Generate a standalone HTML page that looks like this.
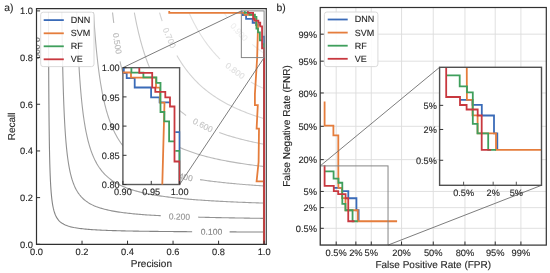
<!DOCTYPE html><html><head><meta charset="utf-8"><style>html,body{margin:0;padding:0;background:#fff;}svg{display:block;text-rendering:geometricPrecision;filter:blur(0.3px);}</style></head><body>
<svg width="550" height="273" viewBox="0 0 550 273" font-family="'Liberation Sans', Arial, sans-serif">
<defs>
<clipPath id="ca"><rect x="36.5" y="8.6" width="229.8" height="235.70000000000002"/></clipPath>
<clipPath id="ci"><rect x="122.9" y="67.7" width="56.69999999999999" height="116.8"/></clipPath>
<clipPath id="ci2"><rect x="122.9" y="67.7" width="57.499999999999986" height="116.8"/></clipPath>
<clipPath id="cb"><rect x="320.2" y="7.5" width="226.09999999999997" height="237.6"/></clipPath>
<clipPath id="cj"><rect x="439.6" y="67.3" width="101.89999999999998" height="118.00000000000001"/></clipPath>
</defs>
<rect width="550" height="273" fill="#fff"/>
<g clip-path="url(#ca)">
<polyline points="48.48,12.53 48.49,14.03 48.49,15.53 48.50,17.03 48.50,18.53 48.51,20.03 48.51,21.53 48.51,23.03 48.52,24.53 48.52,26.03 48.53,27.53 48.53,29.03 48.54,30.52 48.54,32.02 48.55,33.52 48.55,35.02 48.56,36.52 48.56,38.02 48.57,39.52 48.57,41.02 48.58,42.52 48.58,44.02 48.59,45.52 48.60,47.02 48.60,48.52 48.61,50.01 48.61,51.51 48.62,53.01 48.63,54.51 48.63,56.01 48.64,57.51 48.65,59.01 48.65,60.51 48.66,62.01 48.67,63.51 48.67,65.01 48.68,66.51 48.69,68.01 48.69,69.50 48.70,71.00 48.71,72.50 48.72,74.00 48.73,75.50 48.73,77.00 48.74,78.50 48.75,80.00 48.76,81.50 48.77,83.00 48.78,84.50 48.79,86.00 48.80,87.50 48.81,88.99 48.81,90.49 48.82,91.99 48.83,93.49 48.85,94.99 48.86,96.49 48.87,97.99 48.88,99.49 48.89,100.99 48.90,102.49 48.91,103.99 48.93,105.49 48.94,106.98 48.95,108.48 48.96,109.98 48.98,111.48 48.99,112.98 49.00,114.48 49.02,115.98 49.03,117.48 49.05,118.98 49.06,120.48 49.08,121.98 49.10,123.48 49.11,124.97 49.13,126.47 49.15,127.97 49.17,129.47 49.19,130.97 49.21,132.47 49.23,133.97 49.25,135.47 49.27,136.97 49.29,138.47 49.31,139.97 49.34,141.46 49.36,142.96 49.39,144.46 49.41,145.96 49.44,147.46 49.47,148.96 49.50,150.46 49.53,151.96 49.56,153.46 49.59,154.96 49.62,156.45 49.66,157.95 49.70,159.45 49.73,160.95 49.77,162.45 49.81,163.95 49.86,165.45 49.90,166.95 49.95,168.44 50.00,169.94 50.05,171.44 50.11,172.94 50.16,174.44 50.22,175.94 50.29,177.43 50.35,178.93 50.42,180.43 50.50,181.93 50.58,183.42 50.66,184.92 50.75,186.42 50.85,187.91 50.95,189.41 51.06,190.90 51.18,192.40 51.31,193.89 51.45,195.38 51.59,196.88 51.76,198.37 51.93,199.86 52.12,201.34 52.34,202.83 52.57,204.31 52.83,205.78 53.11,207.26 53.43,208.72 53.79,210.18 54.20,211.62 54.66,213.05 55.19,214.45 55.78,215.83 56.46,217.16 57.24,218.44 58.12,219.66 59.10,220.79 60.18,221.83 61.35,222.77 62.59,223.60 63.90,224.34 65.25,224.98 66.64,225.55 68.05,226.05 69.49,226.48 70.94,226.87 72.40,227.21 73.86,227.52 75.34,227.79 76.82,228.04 78.30,228.26 79.78,228.47 81.27,228.65 82.76,228.82 84.25,228.98 85.74,229.12 87.24,229.26 88.73,229.38 90.23,229.49 91.72,229.60 93.22,229.70 94.71,229.79 96.21,229.88 97.71,229.96 99.21,230.04 100.70,230.12 102.20,230.19 103.70,230.25 105.20,230.31 106.69,230.37 108.19,230.43 109.69,230.48 111.19,230.53 112.69,230.58 114.19,230.63 115.68,230.67 117.18,230.71 118.68,230.75 120.18,230.79 121.68,230.83 123.18,230.87 124.68,230.90 126.18,230.93 127.67,230.97 129.17,231.00 130.67,231.03 132.17,231.05 133.67,231.08 135.17,231.11 136.67,231.13 138.17,231.16 139.67,231.18 141.17,231.21 142.66,231.23 144.16,231.25 145.66,231.27 147.16,231.29 148.66,231.31 150.16,231.33 151.66,231.35 153.16,231.37 154.66,231.39 156.16,231.40 157.66,231.42 159.16,231.44 160.65,231.45 162.15,231.47 163.65,231.48 165.15,231.50 166.65,231.51 168.15,231.53 169.65,231.54 171.15,231.55 172.65,231.57 174.15,231.58 175.65,231.59 177.15,231.60 178.64,231.61 180.14,231.63 181.64,231.64 183.14,231.65 184.64,231.66 186.14,231.67 187.64,231.68 189.14,231.69 190.64,231.70 192.14,231.71" fill="none" stroke="rgb(133,133,133)" stroke-width="1.1"/>
<polyline points="229.62,231.90 231.12,231.91 232.62,231.91 234.12,231.92 235.61,231.92 237.11,231.93 238.61,231.93 240.11,231.94 241.61,231.94 243.11,231.95 244.61,231.95 246.11,231.96 247.61,231.97 249.11,231.97 250.61,231.97 252.11,231.98 253.61,231.98 255.10,231.99 256.60,231.99 258.10,232.00 259.60,232.00 261.10,232.01 262.60,232.01 264.10,232.02" fill="none" stroke="rgb(133,133,133)" stroke-width="1.1"/>
<polyline points="61.81,12.53 61.83,14.03 61.85,15.53 61.86,17.02 61.88,18.52 61.90,20.02 61.92,21.51 61.94,23.01 61.96,24.51 61.98,26.00 62.01,27.50 62.03,29.00 62.05,30.49 62.07,31.99 62.09,33.49 62.12,34.98 62.14,36.48 62.16,37.98 62.19,39.47 62.21,40.97 62.24,42.47 62.26,43.96 62.29,45.46 62.31,46.96 62.34,48.45 62.37,49.95 62.39,51.45 62.42,52.94 62.45,54.44 62.48,55.94 62.51,57.43 62.54,58.93 62.57,60.43 62.60,61.92 62.63,63.42 62.66,64.91 62.70,66.41 62.73,67.91 62.77,69.40 62.80,70.90 62.84,72.40 62.87,73.89 62.91,75.39 62.95,76.89 62.99,78.38 63.03,79.88 63.07,81.37 63.11,82.87 63.15,84.37 63.19,85.86 63.24,87.36 63.28,88.86 63.33,90.35 63.37,91.85 63.42,93.34 63.47,94.84 63.52,96.34 63.57,97.83 63.63,99.33 63.68,100.82 63.74,102.32 63.79,103.81 63.85,105.31 63.91,106.81 63.98,108.30 64.04,109.80 64.10,111.29 64.17,112.79 64.24,114.28 64.31,115.78 64.38,117.27 64.46,118.77 64.54,120.26 64.61,121.76 64.70,123.25 64.78,124.75 64.87,126.24 64.96,127.74 65.05,129.23 65.15,130.72 65.25,132.22 65.35,133.71 65.45,135.20 65.56,136.70 65.68,138.19 65.80,139.68 65.92,141.17 66.04,142.66 66.18,144.15 66.31,145.64 66.46,147.13 66.60,148.62 66.76,150.11 66.92,151.60 67.09,153.09 67.26,154.58 67.45,156.06 67.64,157.55 67.84,159.03 68.05,160.51 68.27,161.99 68.50,163.47 68.74,164.95 69.00,166.42 69.27,167.89 69.56,169.36 69.86,170.83 70.18,172.29 70.51,173.75 70.87,175.20 71.25,176.65 71.65,178.09 72.08,179.53 72.54,180.95 73.02,182.37 73.55,183.77 74.10,185.16 74.69,186.54 75.33,187.89 76.00,189.23 76.72,190.54 77.49,191.82 78.31,193.08 79.18,194.29 80.10,195.47 81.08,196.61 82.10,197.70 83.17,198.74 84.29,199.74 85.46,200.68 86.66,201.57 87.90,202.41 89.17,203.20 90.47,203.94 91.80,204.63 93.14,205.28 94.51,205.89 95.90,206.46 97.30,206.99 98.71,207.49 100.13,207.96 101.56,208.40 103.00,208.81 104.44,209.20 105.89,209.57 107.35,209.91 108.81,210.24 110.28,210.55 111.74,210.84 113.22,211.11 114.69,211.38 116.17,211.62 117.64,211.86 119.12,212.09 120.60,212.30 122.09,212.50 123.57,212.70 125.06,212.89 126.54,213.06 128.03,213.24 129.52,213.40 131.01,213.56 132.50,213.71 133.98,213.85 135.48,213.99 136.97,214.12 138.46,214.25 139.95,214.38 141.44,214.50 142.93,214.61 144.43,214.72 145.92,214.83 147.41,214.93 148.91,215.03 150.40,215.13 151.89,215.23 153.39,215.32 154.88,215.40 156.38,215.49 157.87,215.57 159.36,215.65 160.86,215.73" fill="none" stroke="rgb(146,146,146)" stroke-width="1.1"/>
<polyline points="198.25,217.14 199.75,217.18 201.25,217.22 202.74,217.26 204.24,217.30 205.73,217.33 207.23,217.37 208.73,217.41 210.22,217.44 211.72,217.48 213.22,217.51 214.71,217.54 216.21,217.58 217.71,217.61 219.20,217.64 220.70,217.67 222.19,217.70 223.69,217.73 225.19,217.76 226.68,217.79 228.18,217.82 229.68,217.84 231.17,217.87 232.67,217.90 234.17,217.92 235.66,217.95 237.16,217.97 238.66,218.00 240.15,218.02 241.65,218.05 243.15,218.07 244.64,218.09 246.14,218.12 247.64,218.14 249.13,218.16 250.63,218.18 252.13,218.21 253.62,218.23 255.12,218.25 256.62,218.27 258.11,218.29 259.61,218.31 261.11,218.33 262.60,218.35 264.10,218.37" fill="none" stroke="rgb(146,146,146)" stroke-width="1.1"/>
<polyline points="76.71,12.53 76.76,14.03 76.81,15.52 76.86,17.01 76.90,18.51 76.95,20.00 77.00,21.49 77.06,22.98 77.11,24.48 77.16,25.97 77.21,27.46 77.27,28.95 77.32,30.45 77.38,31.94 77.44,33.43 77.49,34.92 77.55,36.42 77.61,37.91 77.68,39.40 77.74,40.89 77.80,42.39 77.87,43.88 77.93,45.37 78.00,46.86 78.07,48.35 78.14,49.85 78.21,51.34 78.28,52.83 78.35,54.32 78.43,55.81 78.50,57.30 78.58,58.80 78.66,60.29 78.74,61.78 78.83,63.27 78.91,64.76 79.00,66.25 79.08,67.74 79.17,69.23 79.27,70.72 79.36,72.22 79.46,73.71 79.55,75.20 79.65,76.69 79.76,78.18 79.86,79.67 79.97,81.16 80.08,82.65 80.19,84.13 80.31,85.62 80.42,87.11 80.54,88.60 80.67,90.09 80.79,91.58 80.92,93.07 81.06,94.55 81.19,96.04 81.33,97.53 81.48,99.01 81.63,100.50 81.78,101.99 81.94,103.47 82.10,104.96 82.26,106.44 82.43,107.93 82.61,109.41 82.79,110.89 82.97,112.37 83.16,113.85 83.36,115.33 83.56,116.81 83.78,118.29 83.99,119.77 84.22,121.25 84.45,122.72 84.69,124.20 84.93,125.67 85.19,127.14 85.45,128.61 85.73,130.08 86.01,131.55 86.31,133.01 86.62,134.47 86.93,135.93 87.26,137.39 87.61,138.84 87.96,140.29 88.33,141.74 88.72,143.18 89.12,144.62 89.54,146.05 89.98,147.48 90.43,148.90 90.91,150.32 91.41,151.73 91.92,153.13 92.46,154.52 93.03,155.90 93.62,157.28 94.24,158.64 94.88,159.98 95.56,161.32 96.26,162.63 96.99,163.93 97.76,165.22 98.56,166.48 99.39,167.72 100.26,168.93 101.16,170.13 102.09,171.29 103.06,172.43 104.07,173.53 105.10,174.61 106.17,175.65 107.27,176.66 108.40,177.64 109.56,178.58 110.75,179.49 111.96,180.36 113.19,181.20 114.45,182.01 115.73,182.78 117.02,183.52 118.34,184.23 119.67,184.91 121.01,185.56 122.37,186.18 123.74,186.78 125.12,187.35 126.51,187.90 127.91,188.42 129.32,188.92 130.73,189.40 132.15,189.86 133.58,190.30 135.01,190.72 136.45,191.13 137.89,191.52 139.34,191.89 140.79,192.25 142.24,192.60 143.70,192.93 145.15,193.25 146.62,193.56 148.08,193.86 149.55,194.14 151.01,194.42 152.48,194.69 153.95,194.94 155.43,195.19 156.90,195.43 158.38,195.67 159.85,195.89 161.33,196.11 162.81,196.32 164.29,196.53 165.77,196.73 167.25,196.92 168.73,197.10 170.21,197.29 171.70,197.46 173.18,197.63 174.66,197.80 176.15,197.96 177.63,198.12 179.12,198.27 180.61,198.42 182.09,198.57 183.58,198.71 185.07,198.84 186.55,198.98 188.04,199.11 189.53,199.24 191.02,199.36 192.51,199.48 194.00,199.60 195.49,199.72 196.97,199.83 198.46,199.94 199.95,200.05 201.44,200.15 202.93,200.26 204.42,200.36 205.91,200.45 207.40,200.55 208.90,200.64 210.39,200.74 211.88,200.83 213.37,200.92 214.86,201.00 216.35,201.09 217.84,201.17 219.33,201.25 220.82,201.33 222.32,201.41 223.81,201.49 225.30,201.56 226.79,201.64 228.28,201.71 229.77,201.78 231.27,201.85 232.76,201.92 234.25,201.98 235.74,202.05 237.23,202.12 238.73,202.18 240.22,202.24 241.71,202.30 243.20,202.36 244.70,202.42 246.19,202.48 247.68,202.54 249.17,202.60 250.67,202.65 252.16,202.71 253.65,202.76 255.14,202.81 256.64,202.86 258.13,202.92 259.62,202.97 261.11,203.01 262.61,203.06 264.10,203.11" fill="none" stroke="rgb(159,159,159)" stroke-width="1.1"/>
<polyline points="93.50,12.53 93.59,14.03 93.69,15.52 93.79,17.01 93.88,18.51 93.98,20.00 94.08,21.49 94.19,22.99 94.29,24.48 94.40,25.97 94.51,27.46 94.62,28.96 94.73,30.45 94.85,31.94 94.96,33.43 95.08,34.92 95.20,36.42 95.32,37.91 95.45,39.40 95.58,40.89 95.71,42.38 95.84,43.87 95.98,45.36 96.11,46.85 96.25,48.34 96.40,49.83 96.54,51.32 96.69,52.81 96.85,54.30 97.00,55.79 97.16,57.27 97.32,58.76 97.49,60.25 97.66,61.74 97.83,63.22 98.01,64.71 98.19,66.19 98.37,67.68 98.56,69.16 98.75,70.65 98.95,72.13 99.16,73.61 99.36,75.10 99.57,76.58 99.79,78.06 100.01,79.54 100.24,81.02 100.48,82.49 100.72,83.97 100.96,85.45 101.22,86.92 101.47,88.40 101.74,89.87 102.01,91.34 102.29,92.81 102.58,94.28 102.88,95.75 103.18,97.21 103.50,98.67 103.82,100.14 104.15,101.59 104.49,103.05 104.84,104.51 105.20,105.96 105.57,107.41 105.96,108.85 106.35,110.30 106.76,111.74 107.18,113.17 107.62,114.61 108.06,116.03 108.53,117.46 109.00,118.87 109.50,120.29 110.01,121.69 110.53,123.10 111.08,124.49 111.64,125.88 112.22,127.26 112.82,128.63 113.44,129.99 114.08,131.34 114.74,132.68 115.43,134.01 116.13,135.33 116.86,136.64 117.62,137.93 118.40,139.21 119.20,140.47 120.03,141.72 120.88,142.95 121.76,144.16 122.67,145.35 123.60,146.52 124.56,147.67 125.54,148.80 126.55,149.90 127.58,150.98 128.64,152.04 129.72,153.08 130.83,154.09 131.96,155.07 133.11,156.03 134.28,156.96 135.47,157.86 136.68,158.74 137.91,159.60 139.15,160.43 140.42,161.23 141.69,162.01 142.98,162.77 144.29,163.50 145.61,164.20 146.94,164.89 148.28,165.55 149.63,166.19 151.00,166.81 152.37,167.41 153.75,167.99 155.13,168.56 156.53,169.10 157.93,169.63 159.33,170.14 160.75,170.63 162.17,171.11 163.59,171.57" fill="none" stroke="rgb(172,172,172)" stroke-width="1.1"/>
<polyline points="200.08,179.62 201.56,179.85 203.04,180.06 204.53,180.27 206.01,180.48 207.49,180.68 208.97,180.88 210.46,181.08 211.94,181.26 213.43,181.45 214.91,181.63 216.40,181.81 217.88,181.98 219.37,182.15 220.86,182.32 222.35,182.48 223.83,182.64 225.32,182.79 226.81,182.94 228.30,183.09 229.79,183.24 231.28,183.38 232.77,183.52 234.26,183.66 235.75,183.80 237.24,183.93 238.73,184.06 240.22,184.19 241.71,184.31 243.20,184.44 244.70,184.56 246.19,184.68 247.68,184.79 249.17,184.91 250.66,185.02 252.16,185.13 253.65,185.24 255.14,185.35 256.63,185.45 258.13,185.55 259.62,185.66 261.11,185.76 262.61,185.85 264.10,185.95" fill="none" stroke="rgb(172,172,172)" stroke-width="1.1"/>
<polyline points="112.55,12.53 112.71,14.02 112.88,15.51 113.05,17.00 113.23,18.49 113.40,19.98 113.58,21.46 113.77,22.95" fill="none" stroke="rgb(185,185,185)" stroke-width="1.1"/>
<polyline points="120.06,61.39 120.37,62.86 120.70,64.32 121.03,65.78 121.37,67.24 121.72,68.70 122.07,70.15 122.44,71.61 122.81,73.06 123.19,74.51 123.58,75.95 123.99,77.40 124.40,78.84 124.82,80.28 125.25,81.71 125.69,83.14 126.15,84.57 126.62,85.99 127.09,87.41 127.59,88.83 128.09,90.24 128.61,91.65 129.14,93.05 129.68,94.44 130.24,95.84 130.82,97.22 131.41,98.60 132.01,99.97 132.64,101.33 133.27,102.69 133.93,104.03 134.60,105.37 135.30,106.70 136.00,108.02 136.73,109.33 137.48,110.63 138.25,111.92 139.03,113.19 139.84,114.46 140.67,115.71 141.51,116.94 142.38,118.16 143.27,119.37 144.18,120.56 145.11,121.74 146.06,122.90 147.03,124.04 148.02,125.16 149.03,126.27 150.06,127.36 151.11,128.42 152.18,129.47 153.28,130.50 154.38,131.51 155.51,132.50 156.66,133.46 157.82,134.41 159.00,135.33 160.19,136.24 161.40,137.12 162.62,137.99 163.86,138.83 165.11,139.65 166.38,140.46 167.66,141.24 168.95,142.00 170.25,142.75 171.56,143.47 172.88,144.18 174.21,144.87 175.55,145.54 176.90,146.19 178.26,146.82 179.62,147.44 181.00,148.05 182.37,148.63 183.76,149.21 185.15,149.76 186.55,150.31 187.95,150.83 189.36,151.35 190.77,151.85 192.19,152.34 193.61,152.82 195.03,153.28 196.46,153.73 197.89,154.18 199.33,154.61 200.77,155.03 202.21,155.44 203.65,155.84 205.10,156.23 206.55,156.61 208.00,156.98 209.45,157.34 210.91,157.70 212.37,158.04 213.83,158.38 215.29,158.71 216.75,159.03 218.22,159.35 219.68,159.66 221.15,159.96 222.62,160.26 224.09,160.55 225.56,160.83 227.03,161.11 228.51,161.38 229.98,161.64 231.46,161.90 232.94,162.16 234.41,162.41 235.89,162.65 237.37,162.89 238.85,163.12 240.33,163.35 241.81,163.58 243.30,163.80 244.78,164.02 246.26,164.23 247.75,164.44 249.23,164.64 250.72,164.85 252.20,165.04 253.69,165.24 255.17,165.43 256.66,165.61 258.15,165.80 259.63,165.98 261.12,166.15 262.61,166.33 264.10,166.50" fill="none" stroke="rgb(185,185,185)" stroke-width="1.1"/>
<polyline points="134.34,12.53 134.61,14.01 134.89,15.48 135.17,16.95 135.45,18.42 135.75,19.88 136.04,21.35 136.35,22.82 136.65,24.28 136.97,25.75 137.29,27.21 137.61,28.67 137.95,30.13 138.29,31.59 138.63,33.04 138.98,34.50 139.34,35.95 139.71,37.40 140.08,38.85 140.46,40.30 140.85,41.74 141.25,43.19 141.66,44.63 142.07,46.07 142.49,47.50 142.92,48.94 143.36,50.37 143.81,51.79 144.27,53.22 144.74,54.64 145.22,56.06 145.71,57.47 146.21,58.88 146.72,60.29 147.24,61.69 147.78,63.09 148.32,64.48 148.88,65.87 149.45,67.26 150.04,68.64 150.63,70.01 151.24,71.38 151.86,72.74 152.50,74.09 153.15,75.44 153.82,76.78 154.50,78.11 155.19,79.44 155.90,80.76 156.63,82.07 157.37,83.37 158.13,84.66 158.90,85.94 159.69,87.21 160.50,88.47 161.32,89.72 162.16,90.96 163.02,92.19 163.89,93.40 164.78,94.60 165.69,95.79 166.62,96.97 167.56,98.13 168.52,99.28 169.50,100.41 170.50,101.53 171.51,102.63 172.54,103.72 173.58,104.79 174.64,105.85 175.72,106.89 176.81,107.91 177.92,108.91 179.05,109.90 180.18,110.88 181.34,111.83 182.50,112.77 183.68,113.69 184.88,114.59 186.08,115.48" fill="none" stroke="rgb(198,198,198)" stroke-width="1.1"/>
<polyline points="219.26,132.52 220.67,133.03 222.08,133.52 223.50,134.01 224.92,134.48 226.34,134.95 227.77,135.41 229.20,135.85 230.63,136.29 232.06,136.72 233.50,137.14 234.94,137.55 236.38,137.95 237.82,138.34 239.27,138.73 240.72,139.11 242.17,139.48 243.62,139.84 245.07,140.20 246.53,140.55 247.99,140.89 249.44,141.23 250.90,141.56 252.37,141.89 253.83,142.20 255.29,142.52 256.76,142.82 258.22,143.12 259.69,143.42 261.16,143.71 262.63,143.99 264.10,144.27" fill="none" stroke="rgb(198,198,198)" stroke-width="1.1"/>
<polyline points="159.52,12.53 159.94,13.97 160.37,15.40 160.80,16.84 161.24,18.27 161.69,19.69 162.15,21.12" fill="none" stroke="rgb(211,211,211)" stroke-width="1.1"/>
<polyline points="176.88,55.43 177.62,56.73 178.38,58.02 179.15,59.30 179.94,60.57 180.74,61.84 181.55,63.09 182.38,64.34 183.22,65.58 184.08,66.80 184.95,68.02 185.84,69.22 186.74,70.42 187.66,71.60 188.59,72.77 189.54,73.93 190.50,75.07 191.48,76.21 192.47,77.33 193.47,78.44 194.49,79.53 195.52,80.61 196.57,81.68 197.63,82.74 198.71,83.78 199.80,84.80 200.90,85.82 202.01,86.81 203.14,87.80 204.28,88.76 205.44,89.72 206.60,90.66 207.78,91.58 208.96,92.49 210.16,93.39 211.37,94.26 212.60,95.13 213.83,95.98 215.07,96.82 216.32,97.64 217.58,98.45 218.85,99.24 220.12,100.02 221.41,100.78 222.70,101.53 224.01,102.27 225.31,102.99 226.63,103.70 227.96,104.40 229.29,105.09 230.62,105.76 231.97,106.42 233.31,107.06 234.67,107.70 236.03,108.32 237.40,108.93 238.77,109.53 240.14,110.12 241.52,110.70 242.91,111.27 244.29,111.82 245.69,112.37 247.08,112.91 248.49,113.43 249.89,113.95 251.30,114.46 252.71,114.95 254.12,115.44 255.54,115.92 256.96,116.39 258.38,116.85 259.81,117.31 261.24,117.75 262.67,118.19 264.10,118.62" fill="none" stroke="rgb(211,211,211)" stroke-width="1.1"/>
<polyline points="188.95,12.53 189.56,13.89 190.17,15.23 190.80,16.58 191.43,17.92 192.08,19.25 192.74,20.58 193.41,21.90 194.09,23.22 194.78,24.53 195.48,25.83 196.19,27.13 196.92,28.43 197.65,29.71 198.40,30.99 199.16,32.26 199.93,33.53 200.72,34.79 201.51,36.04 202.32,37.28 203.14,38.51 203.97,39.74 204.82,40.96 205.68,42.17 206.55,43.36 207.43,44.55 208.33,45.73 209.24,46.90 210.16,48.07 211.09,49.22 212.04,50.36 213.00,51.49 213.97,52.60 214.96,53.71 215.95,54.81 216.96,55.89 217.99,56.97 219.02,58.03 220.07,59.08" fill="none" stroke="rgb(224,224,224)" stroke-width="1.1"/>
<polyline points="250.87,82.02 252.17,82.74 253.47,83.45 254.78,84.14 256.10,84.83 257.42,85.50 258.74,86.16 260.08,86.81 261.41,87.45 262.75,88.08 264.10,88.70" fill="none" stroke="rgb(224,224,224)" stroke-width="1.1"/>
<polyline points="223.80,12.53 224.63,13.76 225.47,14.98 226.32,16.19 227.18,17.39" fill="none" stroke="rgb(237,237,237)" stroke-width="1.1"/>
<polyline points="252.31,44.40 253.45,45.35 254.60,46.28 255.76,47.20 256.92,48.11 258.10,49.01 259.28,49.90 260.48,50.77 261.68,51.64 262.88,52.49 264.10,53.34" fill="none" stroke="rgb(237,237,237)" stroke-width="1.1"/>
<text x="0" y="0" transform="translate(211.50,231.82) rotate(0.3)" font-size="8.5" fill="rgb(133,133,133)" stroke="rgb(133,133,133)" stroke-width="0.12" text-anchor="middle" dominant-baseline="central">0.100</text>
<text x="0" y="0" transform="translate(179.40,216.54) rotate(2.1)" font-size="8.5" fill="rgb(146,146,146)" stroke="rgb(146,146,146)" stroke-width="0.12" text-anchor="middle" dominant-baseline="central">0.200</text>
<text x="0" y="0" transform="translate(182.30,176.43) rotate(11.9)" font-size="8.5" fill="rgb(172,172,172)" stroke="rgb(172,172,172)" stroke-width="0.12" text-anchor="middle" dominant-baseline="central">0.400</text>
<text x="0" y="0" transform="translate(117.30,43.52) rotate(80.9)" font-size="8.5" fill="rgb(185,185,185)" stroke="rgb(185,185,185)" stroke-width="0.12" text-anchor="middle" dominant-baseline="central">0.500</text>
<text x="0" y="0" transform="translate(202.90,125.20) rotate(26.9)" font-size="8.5" fill="rgb(198,198,198)" stroke="rgb(198,198,198)" stroke-width="0.12" text-anchor="middle" dominant-baseline="central">0.600</text>
<text x="0" y="0" transform="translate(169.50,37.95) rotate(67.0)" font-size="8.5" fill="rgb(211,211,211)" stroke="rgb(211,211,211)" stroke-width="0.12" text-anchor="middle" dominant-baseline="central">0.700</text>
<text x="0" y="0" transform="translate(235.20,70.78) rotate(36.6)" font-size="8.5" fill="rgb(224,224,224)" stroke="rgb(224,224,224)" stroke-width="0.12" text-anchor="middle" dominant-baseline="central">0.800</text>
<text x="0" y="0" transform="translate(239.20,32.00) rotate(46.9)" font-size="8.5" fill="rgb(237,237,237)" stroke="rgb(237,237,237)" stroke-width="0.12" text-anchor="middle" dominant-baseline="central">0.900</text>
<text x="0" y="0" transform="translate(37.2,48.0) rotate(90)" font-size="8.5" fill="rgb(122,122,122)" stroke="rgb(122,122,122)" stroke-width="0.12" text-anchor="middle" dominant-baseline="central">0.000</text>
<polyline points="241.70,10.90 241.70,13.02 242.87,13.02 242.87,15.10 246.08,15.10 246.08,18.81 252.66,18.81 252.66,22.73 256.07,22.73 256.07,24.73 260.25,24.73" fill="none" stroke="#3a6bb8" stroke-width="1.8" stroke-linejoin="miter"/>
<polyline points="262.37,36.64 264.10,36.64 264.10,244.30" fill="none" stroke="#3a6bb8" stroke-width="1.8" stroke-linejoin="miter"/>
<polyline points="169.24,10.90 169.24,12.82 244.59,12.82 244.59,14.86 254.63,14.86 254.63,18.85 256.27,18.85 256.27,24.85 258.04,24.85 257.16,57.58 254.90,94.00 254.90,105.20 257.80,105.20 256.60,128.60 259.00,128.60 258.60,162.00 256.60,181.30 263.85,181.30 263.85,244.30" fill="none" stroke="#e57d3c" stroke-width="1.8" stroke-linejoin="miter"/>
<polyline points="244.75,10.90 244.75,12.90 249.57,12.90 249.57,14.74 254.79,14.74 254.79,16.93 256.43,16.93 256.43,28.60 258.00,28.60 258.00,32.36 259.89,32.36 259.89,40.35 262.05,40.35" fill="none" stroke="#3f9f5c" stroke-width="1.8" stroke-linejoin="miter"/>
<polyline points="262.37,44.11 264.10,44.11 264.10,244.30" fill="none" stroke="#3f9f5c" stroke-width="1.8" stroke-linejoin="miter"/>
<polyline points="247.92,10.90 247.92,12.94 253.10,12.94 253.10,18.85 254.35,18.85 254.35,20.53 258.36,20.53 258.36,22.73 260.25,22.73 260.25,26.41 262.05,26.41 262.05,48.39 264.10,48.39 264.10,244.30" fill="none" stroke="#c8383f" stroke-width="1.8" stroke-linejoin="miter"/>
<rect x="241.34" y="10.90" width="22.76" height="46.68" fill="none" stroke="#858585" stroke-width="1"/>
</g>
<line x1="122.9" y1="67.7" x2="241.34" y2="10.90" stroke="#6e6e6e" stroke-width="0.9"/>
<line x1="179.6" y1="184.5" x2="264.10" y2="57.58" stroke="#6e6e6e" stroke-width="0.9"/>
<path d="M266.30,244.30 V8.60" stroke="#444" stroke-width="1.2" fill="none"/>
<path d="M266.30,8.60 H36.50 V244.30 H266.30" stroke="#303030" stroke-width="1.2" fill="none" stroke-linecap="square"/>
<line x1="36.50" y1="244.3" x2="36.50" y2="240.70000000000002" stroke="#303030" stroke-width="1"/>
<line x1="36.5" y1="244.30" x2="40.1" y2="244.30" stroke="#303030" stroke-width="1"/>
<text x="36.50" y="254.7" font-size="9.3" fill="#262626" stroke="#262626" stroke-width="0.12" text-anchor="middle">0.0</text>
<text x="33.0" y="247.70" font-size="9.3" fill="#262626" stroke="#262626" stroke-width="0.12" text-anchor="end">0.0</text>
<line x1="82.02" y1="244.3" x2="82.02" y2="240.70000000000002" stroke="#303030" stroke-width="1"/>
<line x1="36.5" y1="197.62" x2="40.1" y2="197.62" stroke="#303030" stroke-width="1"/>
<text x="82.02" y="254.7" font-size="9.3" fill="#262626" stroke="#262626" stroke-width="0.12" text-anchor="middle">0.2</text>
<text x="33.0" y="201.02" font-size="9.3" fill="#262626" stroke="#262626" stroke-width="0.12" text-anchor="end">0.2</text>
<line x1="127.54" y1="244.3" x2="127.54" y2="240.70000000000002" stroke="#303030" stroke-width="1"/>
<line x1="36.5" y1="150.94" x2="40.1" y2="150.94" stroke="#303030" stroke-width="1"/>
<text x="127.54" y="254.7" font-size="9.3" fill="#262626" stroke="#262626" stroke-width="0.12" text-anchor="middle">0.4</text>
<text x="33.0" y="154.34" font-size="9.3" fill="#262626" stroke="#262626" stroke-width="0.12" text-anchor="end">0.4</text>
<line x1="173.06" y1="244.3" x2="173.06" y2="240.70000000000002" stroke="#303030" stroke-width="1"/>
<line x1="36.5" y1="104.26" x2="40.1" y2="104.26" stroke="#303030" stroke-width="1"/>
<text x="173.06" y="254.7" font-size="9.3" fill="#262626" stroke="#262626" stroke-width="0.12" text-anchor="middle">0.6</text>
<text x="33.0" y="107.66" font-size="9.3" fill="#262626" stroke="#262626" stroke-width="0.12" text-anchor="end">0.6</text>
<line x1="218.58" y1="244.3" x2="218.58" y2="240.70000000000002" stroke="#303030" stroke-width="1"/>
<line x1="36.5" y1="57.58" x2="40.1" y2="57.58" stroke="#303030" stroke-width="1"/>
<text x="218.58" y="254.7" font-size="9.3" fill="#262626" stroke="#262626" stroke-width="0.12" text-anchor="middle">0.8</text>
<text x="33.0" y="60.98" font-size="9.3" fill="#262626" stroke="#262626" stroke-width="0.12" text-anchor="end">0.8</text>
<line x1="264.10" y1="244.3" x2="264.10" y2="240.70000000000002" stroke="#303030" stroke-width="1"/>
<line x1="36.5" y1="10.90" x2="40.1" y2="10.90" stroke="#303030" stroke-width="1"/>
<text x="264.10" y="254.7" font-size="9.3" fill="#262626" stroke="#262626" stroke-width="0.12" text-anchor="middle">1.0</text>
<text x="33.0" y="14.30" font-size="9.3" fill="#262626" stroke="#262626" stroke-width="0.12" text-anchor="end">1.0</text>
<text x="151.4" y="267.3" font-size="10" fill="#262626" stroke="#262626" stroke-width="0.12" text-anchor="middle">Precision</text>
<text transform="translate(14.6,126.45) rotate(-90)" font-size="10" fill="#262626" stroke="#262626" stroke-width="0.12" text-anchor="middle">Recall</text>
<text x="4.3" y="10.6" font-size="10.3" fill="#262626" stroke="#262626" stroke-width="0.12">a)</text>
<rect x="40.7" y="12.2" width="53.3" height="54.39999999999999" rx="2.5" fill="#fff" fill-opacity="0.88" stroke="#d6d6d6" stroke-width="0.9"/>
<line x1="43.7" y1="20.1" x2="63.8" y2="20.1" stroke="#3a6bb8" stroke-width="1.8"/>
<text x="70.8" y="23.00" font-size="9" fill="#262626" stroke="#262626" stroke-width="0.12">DNN</text>
<line x1="43.7" y1="33.3" x2="63.8" y2="33.3" stroke="#e57d3c" stroke-width="1.8"/>
<text x="70.8" y="36.20" font-size="9" fill="#262626" stroke="#262626" stroke-width="0.12">SVM</text>
<line x1="43.7" y1="46.3" x2="63.8" y2="46.3" stroke="#3f9f5c" stroke-width="1.8"/>
<text x="70.8" y="49.20" font-size="9" fill="#262626" stroke="#262626" stroke-width="0.12">RF</text>
<line x1="43.7" y1="59.3" x2="63.8" y2="59.3" stroke="#c8383f" stroke-width="1.8"/>
<text x="70.8" y="62.20" font-size="9" fill="#262626" stroke="#262626" stroke-width="0.12">VE</text>
<rect x="122.9" y="67.7" width="56.70" height="116.80" fill="#fff"/>
<rect x="122.9" y="67.7" width="56.70" height="116.80" fill="none" stroke="#5a5a5a" stroke-width="1.4"/>
<g clip-path="url(#ci2)">
<polyline points="123.80,67.70 123.80,73.00 126.70,73.00 126.70,78.20 134.70,78.20 134.70,87.50 151.10,87.50 151.10,97.30 159.60,97.30 159.60,102.30 170.00,102.30" fill="none" stroke="#3a6bb8" stroke-width="1.8"/>
<polyline points="175.30,132.10 179.60,132.10 179.60,651.70" fill="none" stroke="#3a6bb8" stroke-width="1.8"/>
<polyline points="-56.73,67.70 -56.73,72.50 131.00,72.50 131.00,77.60 156.00,77.60 156.00,87.60 160.10,87.60 160.10,102.60 164.50,102.60 162.30,184.50 156.68,275.63 156.68,303.65 163.91,303.65 160.92,362.20 166.89,362.20 165.90,445.77 160.92,494.07 178.98,494.07 178.98,651.70" fill="none" stroke="#e57d3c" stroke-width="1.8"/>
<polyline points="131.40,67.70 131.40,72.70 143.40,72.70 143.40,77.30 156.40,77.30 156.40,82.80 160.50,82.80 160.50,112.00 164.40,112.00 164.40,121.40 169.10,121.40 169.10,141.40 174.50,141.40" fill="none" stroke="#3f9f5c" stroke-width="1.8"/>
<polyline points="175.30,150.80 179.60,150.80 179.60,651.70" fill="none" stroke="#3f9f5c" stroke-width="1.8"/>
<polyline points="139.30,67.70 139.30,72.80 152.20,72.80 152.20,87.60 155.30,87.60 155.30,91.80 165.30,91.80 165.30,97.30 170.00,97.30 170.00,106.50 174.50,106.50 174.50,161.50 179.60,161.50 179.60,651.70" fill="none" stroke="#c8383f" stroke-width="1.8"/>
</g>
<line x1="122.90" y1="184.5" x2="122.90" y2="180.9" stroke="#333" stroke-width="1"/>
<text x="122.90" y="194.6" font-size="9.2" fill="#262626" stroke="#262626" stroke-width="0.12" text-anchor="middle">0.90</text>
<line x1="151.25" y1="184.5" x2="151.25" y2="180.9" stroke="#333" stroke-width="1"/>
<text x="151.25" y="194.6" font-size="9.2" fill="#262626" stroke="#262626" stroke-width="0.12" text-anchor="middle">0.95</text>
<line x1="179.60" y1="184.5" x2="179.60" y2="180.9" stroke="#333" stroke-width="1"/>
<text x="179.60" y="194.6" font-size="9.2" fill="#262626" stroke="#262626" stroke-width="0.12" text-anchor="middle">1.00</text>
<line x1="122.9" y1="184.50" x2="126.5" y2="184.50" stroke="#333" stroke-width="1"/>
<text x="119.7" y="188.10" font-size="9.2" fill="#262626" stroke="#262626" stroke-width="0.12" text-anchor="end">0.80</text>
<line x1="122.9" y1="155.30" x2="126.5" y2="155.30" stroke="#333" stroke-width="1"/>
<text x="119.7" y="158.90" font-size="9.2" fill="#262626" stroke="#262626" stroke-width="0.12" text-anchor="end">0.85</text>
<line x1="122.9" y1="126.10" x2="126.5" y2="126.10" stroke="#333" stroke-width="1"/>
<text x="119.7" y="129.70" font-size="9.2" fill="#262626" stroke="#262626" stroke-width="0.12" text-anchor="end">0.90</text>
<line x1="122.9" y1="96.90" x2="126.5" y2="96.90" stroke="#333" stroke-width="1"/>
<text x="119.7" y="100.50" font-size="9.2" fill="#262626" stroke="#262626" stroke-width="0.12" text-anchor="end">0.95</text>
<line x1="122.9" y1="67.70" x2="126.5" y2="67.70" stroke="#333" stroke-width="1"/>
<text x="119.7" y="71.30" font-size="9.2" fill="#262626" stroke="#262626" stroke-width="0.12" text-anchor="end">1.00</text>
<g clip-path="url(#cb)">
<line x1="336.19" y1="7.5" x2="336.19" y2="245.1" stroke="#dcdcdc" stroke-width="0.9"/>
<line x1="320.2" y1="228.30" x2="546.3" y2="228.30" stroke="#dcdcdc" stroke-width="0.9"/>
<line x1="355.86" y1="7.5" x2="355.86" y2="245.1" stroke="#dcdcdc" stroke-width="0.9"/>
<line x1="320.2" y1="207.63" x2="546.3" y2="207.63" stroke="#dcdcdc" stroke-width="0.9"/>
<line x1="371.27" y1="7.5" x2="371.27" y2="245.1" stroke="#dcdcdc" stroke-width="0.9"/>
<line x1="320.2" y1="191.44" x2="546.3" y2="191.44" stroke="#dcdcdc" stroke-width="0.9"/>
<line x1="401.54" y1="7.5" x2="401.54" y2="245.1" stroke="#dcdcdc" stroke-width="0.9"/>
<line x1="320.2" y1="159.63" x2="546.3" y2="159.63" stroke="#dcdcdc" stroke-width="0.9"/>
<line x1="433.25" y1="7.5" x2="433.25" y2="245.1" stroke="#dcdcdc" stroke-width="0.9"/>
<line x1="320.2" y1="126.30" x2="546.3" y2="126.30" stroke="#dcdcdc" stroke-width="0.9"/>
<line x1="464.96" y1="7.5" x2="464.96" y2="245.1" stroke="#dcdcdc" stroke-width="0.9"/>
<line x1="320.2" y1="92.97" x2="546.3" y2="92.97" stroke="#dcdcdc" stroke-width="0.9"/>
<line x1="495.23" y1="7.5" x2="495.23" y2="245.1" stroke="#dcdcdc" stroke-width="0.9"/>
<line x1="320.2" y1="61.16" x2="546.3" y2="61.16" stroke="#dcdcdc" stroke-width="0.9"/>
<line x1="520.91" y1="7.5" x2="520.91" y2="245.1" stroke="#dcdcdc" stroke-width="0.9"/>
<line x1="320.2" y1="34.18" x2="546.3" y2="34.18" stroke="#dcdcdc" stroke-width="0.9"/>
<polyline points="333.79,187.78 342.11,187.78 342.11,191.14 348.30,191.14 348.30,198.25 356.43,198.25 356.43,210.27 358.62,210.27 358.62,221.27" fill="none" stroke="#3a6bb8" stroke-width="1.8"/>
<polyline points="324.60,101.40 324.60,125.70 333.40,125.70 333.40,135.40 338.30,135.40 338.30,165.90 338.38,187.78 342.11,187.78 342.11,198.12 345.51,198.12 345.51,210.27 357.76,210.27 357.76,221.27 397.10,221.27" fill="none" stroke="#e57d3c" stroke-width="1.8"/>
<polyline points="324.60,171.30 333.59,171.30 333.59,178.65 338.45,178.65 338.45,182.75 342.31,182.75 342.31,203.82 345.44,203.82 345.44,210.27 352.56,210.27 352.56,221.27 357.76,221.27" fill="none" stroke="#3f9f5c" stroke-width="1.8"/>
<polyline points="324.60,165.30 324.60,165.30 324.60,185.83 333.79,185.83 333.79,191.20 338.18,191.20 338.18,194.22 345.57,194.22 345.57,198.25 348.24,198.25 348.24,221.27 354.49,221.27" fill="none" stroke="#c8383f" stroke-width="1.8"/>
<rect x="320.21" y="165.90" width="67.82" height="79.20" fill="none" stroke="#858585" stroke-width="1"/>
</g>
<line x1="439.6" y1="67.3" x2="320.21" y2="165.90" stroke="#6e6e6e" stroke-width="0.9"/>
<line x1="541.5" y1="185.3" x2="388.03" y2="245.10" stroke="#6e6e6e" stroke-width="0.9"/>
<rect x="320.2" y="7.5" width="226.10" height="237.60" fill="none" stroke="#303030" stroke-width="1.2"/>
<line x1="336.19" y1="245.1" x2="336.19" y2="241.5" stroke="#303030" stroke-width="1"/>
<line x1="320.2" y1="228.30" x2="323.8" y2="228.30" stroke="#303030" stroke-width="1"/>
<text x="336.19" y="255.5" font-size="9.3" fill="#262626" stroke="#262626" stroke-width="0.12" text-anchor="middle">0.5%</text>
<text x="317.0" y="231.90" font-size="9.3" fill="#262626" stroke="#262626" stroke-width="0.12" text-anchor="end">0.5%</text>
<line x1="355.86" y1="245.1" x2="355.86" y2="241.5" stroke="#303030" stroke-width="1"/>
<line x1="320.2" y1="207.63" x2="323.8" y2="207.63" stroke="#303030" stroke-width="1"/>
<text x="355.86" y="255.5" font-size="9.3" fill="#262626" stroke="#262626" stroke-width="0.12" text-anchor="middle">2%</text>
<text x="317.0" y="211.23" font-size="9.3" fill="#262626" stroke="#262626" stroke-width="0.12" text-anchor="end">2%</text>
<line x1="371.27" y1="245.1" x2="371.27" y2="241.5" stroke="#303030" stroke-width="1"/>
<line x1="320.2" y1="191.44" x2="323.8" y2="191.44" stroke="#303030" stroke-width="1"/>
<text x="371.27" y="255.5" font-size="9.3" fill="#262626" stroke="#262626" stroke-width="0.12" text-anchor="middle">5%</text>
<text x="317.0" y="195.04" font-size="9.3" fill="#262626" stroke="#262626" stroke-width="0.12" text-anchor="end">5%</text>
<line x1="401.54" y1="245.1" x2="401.54" y2="241.5" stroke="#303030" stroke-width="1"/>
<line x1="320.2" y1="159.63" x2="323.8" y2="159.63" stroke="#303030" stroke-width="1"/>
<text x="401.54" y="255.5" font-size="9.3" fill="#262626" stroke="#262626" stroke-width="0.12" text-anchor="middle">20%</text>
<text x="317.0" y="163.23" font-size="9.3" fill="#262626" stroke="#262626" stroke-width="0.12" text-anchor="end">20%</text>
<line x1="433.25" y1="245.1" x2="433.25" y2="241.5" stroke="#303030" stroke-width="1"/>
<line x1="320.2" y1="126.30" x2="323.8" y2="126.30" stroke="#303030" stroke-width="1"/>
<text x="433.25" y="255.5" font-size="9.3" fill="#262626" stroke="#262626" stroke-width="0.12" text-anchor="middle">50%</text>
<text x="317.0" y="129.90" font-size="9.3" fill="#262626" stroke="#262626" stroke-width="0.12" text-anchor="end">50%</text>
<line x1="464.96" y1="245.1" x2="464.96" y2="241.5" stroke="#303030" stroke-width="1"/>
<line x1="320.2" y1="92.97" x2="323.8" y2="92.97" stroke="#303030" stroke-width="1"/>
<text x="464.96" y="255.5" font-size="9.3" fill="#262626" stroke="#262626" stroke-width="0.12" text-anchor="middle">80%</text>
<text x="317.0" y="96.57" font-size="9.3" fill="#262626" stroke="#262626" stroke-width="0.12" text-anchor="end">80%</text>
<line x1="495.23" y1="245.1" x2="495.23" y2="241.5" stroke="#303030" stroke-width="1"/>
<line x1="320.2" y1="61.16" x2="323.8" y2="61.16" stroke="#303030" stroke-width="1"/>
<text x="495.23" y="255.5" font-size="9.3" fill="#262626" stroke="#262626" stroke-width="0.12" text-anchor="middle">95%</text>
<text x="317.0" y="64.76" font-size="9.3" fill="#262626" stroke="#262626" stroke-width="0.12" text-anchor="end">95%</text>
<line x1="520.91" y1="245.1" x2="520.91" y2="241.5" stroke="#303030" stroke-width="1"/>
<line x1="320.2" y1="34.18" x2="323.8" y2="34.18" stroke="#303030" stroke-width="1"/>
<text x="520.91" y="255.5" font-size="9.3" fill="#262626" stroke="#262626" stroke-width="0.12" text-anchor="middle">99%</text>
<text x="317.0" y="37.78" font-size="9.3" fill="#262626" stroke="#262626" stroke-width="0.12" text-anchor="end">99%</text>
<text x="433.25" y="267.5" font-size="10" fill="#262626" stroke="#262626" stroke-width="0.12" text-anchor="middle">False Positive Rate (FPR)</text>
<text transform="translate(289.8,126.0) rotate(-90)" font-size="10.1" fill="#262626" stroke="#262626" stroke-width="0.12" text-anchor="middle">False Negative Rate (FNR)</text>
<text x="276.6" y="10.5" font-size="10.3" fill="#262626" stroke="#262626" stroke-width="0.12">b)</text>
<rect x="324.4" y="12.0" width="53.5" height="54.599999999999994" rx="2.5" fill="#fff" fill-opacity="0.88" stroke="#d6d6d6" stroke-width="0.9"/>
<line x1="327.7" y1="19.5" x2="347.7" y2="19.5" stroke="#3a6bb8" stroke-width="1.8"/>
<text x="354.8" y="22.40" font-size="9" fill="#262626" stroke="#262626" stroke-width="0.12">DNN</text>
<line x1="327.7" y1="32.6" x2="347.7" y2="32.6" stroke="#e57d3c" stroke-width="1.8"/>
<text x="354.8" y="35.50" font-size="9" fill="#262626" stroke="#262626" stroke-width="0.12">SVM</text>
<line x1="327.7" y1="45.7" x2="347.7" y2="45.7" stroke="#3f9f5c" stroke-width="1.8"/>
<text x="354.8" y="48.60" font-size="9" fill="#262626" stroke="#262626" stroke-width="0.12">RF</text>
<line x1="327.7" y1="58.8" x2="347.7" y2="58.8" stroke="#c8383f" stroke-width="1.8"/>
<text x="354.8" y="61.70" font-size="9" fill="#262626" stroke="#262626" stroke-width="0.12">VE</text>
<rect x="439.6" y="67.3" width="101.90" height="118.00" fill="#fff"/>
<g clip-path="url(#cj)">
<polyline points="460.00,99.90 472.50,99.90 472.50,104.90 481.80,104.90 481.80,115.50 494.00,115.50 494.00,133.40 497.30,133.40 497.30,149.80" fill="none" stroke="#3a6bb8" stroke-width="1.8"/>
<polyline points="446.19,-28.80 446.19,7.41 459.41,7.41 459.41,21.86 466.77,21.86 466.77,67.30 466.90,99.90 472.50,99.90 472.50,115.30 477.60,115.30 477.60,133.40 496.00,133.40 496.00,149.80 555.10,149.80" fill="none" stroke="#e57d3c" stroke-width="1.8"/>
<polyline points="446.19,75.35 459.70,75.35 459.70,86.30 467.00,86.30 467.00,92.40 472.80,92.40 472.80,123.80 477.50,123.80 477.50,133.40 488.20,133.40 488.20,149.80 496.00,149.80" fill="none" stroke="#3f9f5c" stroke-width="1.8"/>
<polyline points="446.19,66.41 446.19,66.41 446.19,97.00 460.00,97.00 460.00,105.00 466.60,105.00 466.60,109.50 477.70,109.50 477.70,115.50 481.70,115.50 481.70,149.80 491.10,149.80" fill="none" stroke="#c8383f" stroke-width="1.8"/>
</g>
<rect x="439.6" y="67.3" width="101.90" height="118.00" fill="none" stroke="#505050" stroke-width="1.4"/>
<line x1="463.61" y1="185.3" x2="463.61" y2="181.70000000000002" stroke="#555" stroke-width="1"/>
<line x1="439.6" y1="160.27" x2="443.20000000000005" y2="160.27" stroke="#333" stroke-width="1"/>
<text x="463.61" y="195.8" font-size="9.2" fill="#262626" stroke="#262626" stroke-width="0.12" text-anchor="middle">0.5%</text>
<text x="436.9" y="163.87" font-size="9.2" fill="#262626" stroke="#262626" stroke-width="0.12" text-anchor="end">0.5%</text>
<line x1="493.16" y1="185.3" x2="493.16" y2="181.70000000000002" stroke="#555" stroke-width="1"/>
<line x1="439.6" y1="129.47" x2="443.20000000000005" y2="129.47" stroke="#333" stroke-width="1"/>
<text x="493.16" y="195.8" font-size="9.2" fill="#262626" stroke="#262626" stroke-width="0.12" text-anchor="middle">2%</text>
<text x="436.9" y="133.07" font-size="9.2" fill="#262626" stroke="#262626" stroke-width="0.12" text-anchor="end">2%</text>
<line x1="516.30" y1="185.3" x2="516.30" y2="181.70000000000002" stroke="#555" stroke-width="1"/>
<line x1="439.6" y1="105.35" x2="443.20000000000005" y2="105.35" stroke="#333" stroke-width="1"/>
<text x="516.30" y="195.8" font-size="9.2" fill="#262626" stroke="#262626" stroke-width="0.12" text-anchor="middle">5%</text>
<text x="436.9" y="108.95" font-size="9.2" fill="#262626" stroke="#262626" stroke-width="0.12" text-anchor="end">5%</text>
</svg></body></html>
